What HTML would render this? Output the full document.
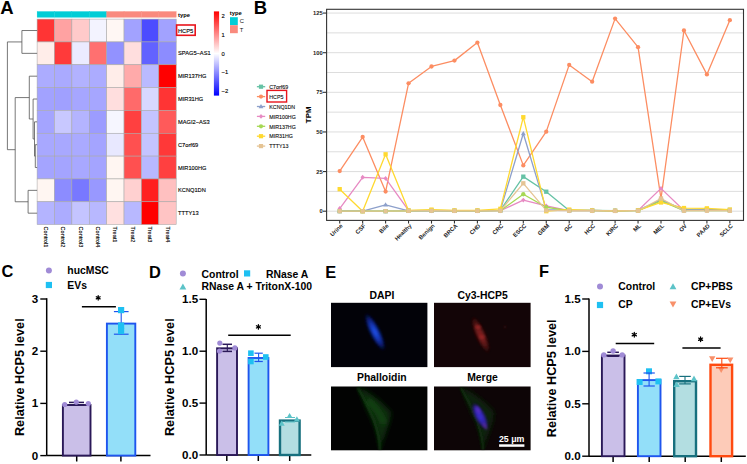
<!DOCTYPE html>
<html><head><meta charset="utf-8"><title>Figure</title>
<style>html,body{margin:0;padding:0;background:#fff;}body{width:747px;height:464px;overflow:hidden;}svg{display:block;font-family:"Liberation Sans", sans-serif;}</style>
</head><body>
<svg width="747" height="464" viewBox="0 0 747 464">
<rect width="747" height="464" fill="#fff"/>
<text x="0.2" y="13.7" font-size="18.5" font-weight="bold">A</text>
<rect x="37.10" y="11.5" width="17.39" height="5.80" fill="#00CDD6" stroke="#00CDD6" stroke-width="0.3"/>
<rect x="54.49" y="11.5" width="17.39" height="5.80" fill="#00CDD6" stroke="#00CDD6" stroke-width="0.3"/>
<rect x="71.88" y="11.5" width="17.39" height="5.80" fill="#00CDD6" stroke="#00CDD6" stroke-width="0.3"/>
<rect x="89.26" y="11.5" width="17.39" height="5.80" fill="#00CDD6" stroke="#00CDD6" stroke-width="0.3"/>
<rect x="106.65" y="11.5" width="17.39" height="5.80" fill="#F98A7E" stroke="#F98A7E" stroke-width="0.3"/>
<rect x="124.04" y="11.5" width="17.39" height="5.80" fill="#F98A7E" stroke="#F98A7E" stroke-width="0.3"/>
<rect x="141.42" y="11.5" width="17.39" height="5.80" fill="#F98A7E" stroke="#F98A7E" stroke-width="0.3"/>
<rect x="158.81" y="11.5" width="17.39" height="5.80" fill="#F98A7E" stroke="#F98A7E" stroke-width="0.3"/>
<rect x="37.10" y="19.10" width="17.39" height="22.83" fill="#FF3434" stroke="#a8a8a8" stroke-width="0.55"/>
<rect x="54.49" y="19.10" width="17.39" height="22.83" fill="#FFA2A2" stroke="#a8a8a8" stroke-width="0.55"/>
<rect x="71.88" y="19.10" width="17.39" height="22.83" fill="#FFCACA" stroke="#a8a8a8" stroke-width="0.55"/>
<rect x="89.26" y="19.10" width="17.39" height="22.83" fill="#F3F3FF" stroke="#a8a8a8" stroke-width="0.55"/>
<rect x="106.65" y="19.10" width="17.39" height="22.83" fill="#FFF7F4" stroke="#a8a8a8" stroke-width="0.55"/>
<rect x="124.04" y="19.10" width="17.39" height="22.83" fill="#A2A2FF" stroke="#a8a8a8" stroke-width="0.55"/>
<rect x="141.42" y="19.10" width="17.39" height="22.83" fill="#4C4CFF" stroke="#a8a8a8" stroke-width="0.55"/>
<rect x="158.81" y="19.10" width="17.39" height="22.83" fill="#A2A2FF" stroke="#a8a8a8" stroke-width="0.55"/>
<rect x="37.10" y="41.93" width="17.39" height="22.83" fill="#FFEDE9" stroke="#a8a8a8" stroke-width="0.55"/>
<rect x="54.49" y="41.93" width="17.39" height="22.83" fill="#FF3A3A" stroke="#a8a8a8" stroke-width="0.55"/>
<rect x="71.88" y="41.93" width="17.39" height="22.83" fill="#EBEBFF" stroke="#a8a8a8" stroke-width="0.55"/>
<rect x="89.26" y="41.93" width="17.39" height="22.83" fill="#FF7070" stroke="#a8a8a8" stroke-width="0.55"/>
<rect x="106.65" y="41.93" width="17.39" height="22.83" fill="#9292FF" stroke="#a8a8a8" stroke-width="0.55"/>
<rect x="124.04" y="41.93" width="17.39" height="22.83" fill="#FFDEDE" stroke="#a8a8a8" stroke-width="0.55"/>
<rect x="141.42" y="41.93" width="17.39" height="22.83" fill="#6262FF" stroke="#a8a8a8" stroke-width="0.55"/>
<rect x="158.81" y="41.93" width="17.39" height="22.83" fill="#8C8CFF" stroke="#a8a8a8" stroke-width="0.55"/>
<rect x="37.10" y="64.77" width="17.39" height="22.83" fill="#ACACFF" stroke="#a8a8a8" stroke-width="0.55"/>
<rect x="54.49" y="64.77" width="17.39" height="22.83" fill="#AAAAFF" stroke="#a8a8a8" stroke-width="0.55"/>
<rect x="71.88" y="64.77" width="17.39" height="22.83" fill="#B2B2FF" stroke="#a8a8a8" stroke-width="0.55"/>
<rect x="89.26" y="64.77" width="17.39" height="22.83" fill="#ACACFF" stroke="#a8a8a8" stroke-width="0.55"/>
<rect x="106.65" y="64.77" width="17.39" height="22.83" fill="#FFEDE9" stroke="#a8a8a8" stroke-width="0.55"/>
<rect x="124.04" y="64.77" width="17.39" height="22.83" fill="#FFAAAA" stroke="#a8a8a8" stroke-width="0.55"/>
<rect x="141.42" y="64.77" width="17.39" height="22.83" fill="#BABAFF" stroke="#a8a8a8" stroke-width="0.55"/>
<rect x="158.81" y="64.77" width="17.39" height="22.83" fill="#FF0000" stroke="#a8a8a8" stroke-width="0.55"/>
<rect x="37.10" y="87.60" width="17.39" height="22.83" fill="#A2A2FF" stroke="#a8a8a8" stroke-width="0.55"/>
<rect x="54.49" y="87.60" width="17.39" height="22.83" fill="#A0A0FF" stroke="#a8a8a8" stroke-width="0.55"/>
<rect x="71.88" y="87.60" width="17.39" height="22.83" fill="#A6A6FF" stroke="#a8a8a8" stroke-width="0.55"/>
<rect x="89.26" y="87.60" width="17.39" height="22.83" fill="#A6A6FF" stroke="#a8a8a8" stroke-width="0.55"/>
<rect x="106.65" y="87.60" width="17.39" height="22.83" fill="#FFDEDE" stroke="#a8a8a8" stroke-width="0.55"/>
<rect x="124.04" y="87.60" width="17.39" height="22.83" fill="#FF6A6A" stroke="#a8a8a8" stroke-width="0.55"/>
<rect x="141.42" y="87.60" width="17.39" height="22.83" fill="#D8D8FF" stroke="#a8a8a8" stroke-width="0.55"/>
<rect x="158.81" y="87.60" width="17.39" height="22.83" fill="#FF3434" stroke="#a8a8a8" stroke-width="0.55"/>
<rect x="37.10" y="110.43" width="17.39" height="22.83" fill="#A4A4FF" stroke="#a8a8a8" stroke-width="0.55"/>
<rect x="54.49" y="110.43" width="17.39" height="22.83" fill="#C8C8FF" stroke="#a8a8a8" stroke-width="0.55"/>
<rect x="71.88" y="110.43" width="17.39" height="22.83" fill="#B4B4FF" stroke="#a8a8a8" stroke-width="0.55"/>
<rect x="89.26" y="110.43" width="17.39" height="22.83" fill="#9C9CFF" stroke="#a8a8a8" stroke-width="0.55"/>
<rect x="106.65" y="110.43" width="17.39" height="22.83" fill="#F6F6FF" stroke="#a8a8a8" stroke-width="0.55"/>
<rect x="124.04" y="110.43" width="17.39" height="22.83" fill="#FF4040" stroke="#a8a8a8" stroke-width="0.55"/>
<rect x="141.42" y="110.43" width="17.39" height="22.83" fill="#C4C4FF" stroke="#a8a8a8" stroke-width="0.55"/>
<rect x="158.81" y="110.43" width="17.39" height="22.83" fill="#FF5A5A" stroke="#a8a8a8" stroke-width="0.55"/>
<rect x="37.10" y="133.27" width="17.39" height="22.83" fill="#A8A8FF" stroke="#a8a8a8" stroke-width="0.55"/>
<rect x="54.49" y="133.27" width="17.39" height="22.83" fill="#A8A8FF" stroke="#a8a8a8" stroke-width="0.55"/>
<rect x="71.88" y="133.27" width="17.39" height="22.83" fill="#AAAAFF" stroke="#a8a8a8" stroke-width="0.55"/>
<rect x="89.26" y="133.27" width="17.39" height="22.83" fill="#A4A4FF" stroke="#a8a8a8" stroke-width="0.55"/>
<rect x="106.65" y="133.27" width="17.39" height="22.83" fill="#E8E8FF" stroke="#a8a8a8" stroke-width="0.55"/>
<rect x="124.04" y="133.27" width="17.39" height="22.83" fill="#FF5050" stroke="#a8a8a8" stroke-width="0.55"/>
<rect x="141.42" y="133.27" width="17.39" height="22.83" fill="#C4C4FF" stroke="#a8a8a8" stroke-width="0.55"/>
<rect x="158.81" y="133.27" width="17.39" height="22.83" fill="#FF3838" stroke="#a8a8a8" stroke-width="0.55"/>
<rect x="37.10" y="156.10" width="17.39" height="22.83" fill="#A4A4FF" stroke="#a8a8a8" stroke-width="0.55"/>
<rect x="54.49" y="156.10" width="17.39" height="22.83" fill="#A4A4FF" stroke="#a8a8a8" stroke-width="0.55"/>
<rect x="71.88" y="156.10" width="17.39" height="22.83" fill="#A8A8FF" stroke="#a8a8a8" stroke-width="0.55"/>
<rect x="89.26" y="156.10" width="17.39" height="22.83" fill="#A4A4FF" stroke="#a8a8a8" stroke-width="0.55"/>
<rect x="106.65" y="156.10" width="17.39" height="22.83" fill="#FFF6F2" stroke="#a8a8a8" stroke-width="0.55"/>
<rect x="124.04" y="156.10" width="17.39" height="22.83" fill="#FF5050" stroke="#a8a8a8" stroke-width="0.55"/>
<rect x="141.42" y="156.10" width="17.39" height="22.83" fill="#B8B8FF" stroke="#a8a8a8" stroke-width="0.55"/>
<rect x="158.81" y="156.10" width="17.39" height="22.83" fill="#FF4040" stroke="#a8a8a8" stroke-width="0.55"/>
<rect x="37.10" y="178.93" width="17.39" height="22.83" fill="#FFF6F2" stroke="#a8a8a8" stroke-width="0.55"/>
<rect x="54.49" y="178.93" width="17.39" height="22.83" fill="#8C8CFF" stroke="#a8a8a8" stroke-width="0.55"/>
<rect x="71.88" y="178.93" width="17.39" height="22.83" fill="#7878FF" stroke="#a8a8a8" stroke-width="0.55"/>
<rect x="89.26" y="178.93" width="17.39" height="22.83" fill="#9898FF" stroke="#a8a8a8" stroke-width="0.55"/>
<rect x="106.65" y="178.93" width="17.39" height="22.83" fill="#FFF6F2" stroke="#a8a8a8" stroke-width="0.55"/>
<rect x="124.04" y="178.93" width="17.39" height="22.83" fill="#FFD0D0" stroke="#a8a8a8" stroke-width="0.55"/>
<rect x="141.42" y="178.93" width="17.39" height="22.83" fill="#FF2020" stroke="#a8a8a8" stroke-width="0.55"/>
<rect x="158.81" y="178.93" width="17.39" height="22.83" fill="#FFC0C0" stroke="#a8a8a8" stroke-width="0.55"/>
<rect x="37.10" y="201.77" width="17.39" height="22.83" fill="#B4B4FF" stroke="#a8a8a8" stroke-width="0.55"/>
<rect x="54.49" y="201.77" width="17.39" height="22.83" fill="#ACACFF" stroke="#a8a8a8" stroke-width="0.55"/>
<rect x="71.88" y="201.77" width="17.39" height="22.83" fill="#C4C4FF" stroke="#a8a8a8" stroke-width="0.55"/>
<rect x="89.26" y="201.77" width="17.39" height="22.83" fill="#B8B8FF" stroke="#a8a8a8" stroke-width="0.55"/>
<rect x="106.65" y="201.77" width="17.39" height="22.83" fill="#FFE0E0" stroke="#a8a8a8" stroke-width="0.55"/>
<rect x="124.04" y="201.77" width="17.39" height="22.83" fill="#B8B8FF" stroke="#a8a8a8" stroke-width="0.55"/>
<rect x="141.42" y="201.77" width="17.39" height="22.83" fill="#FF0000" stroke="#a8a8a8" stroke-width="0.55"/>
<rect x="158.81" y="201.77" width="17.39" height="22.83" fill="#FFC4C4" stroke="#a8a8a8" stroke-width="0.55"/>
<text x="178" y="16.9" font-size="5.8" font-weight="bold">type</text>
<text x="178" y="32.62" font-size="5.7" fill="#000" stroke="#000" stroke-width="0.12">HCP5</text>
<text x="178" y="55.45" font-size="5.7" fill="#000" stroke="#000" stroke-width="0.12">SPAG5−AS1</text>
<text x="178" y="78.28" font-size="5.7" fill="#000" stroke="#000" stroke-width="0.12">MIR137HG</text>
<text x="178" y="101.12" font-size="5.7" fill="#000" stroke="#000" stroke-width="0.12">MIR31HG</text>
<text x="178" y="123.95" font-size="5.7" fill="#000" stroke="#000" stroke-width="0.12">MAGI2−AS3</text>
<text x="178" y="146.78" font-size="5.7" fill="#000" stroke="#000" stroke-width="0.12">C7orf69</text>
<text x="178" y="169.62" font-size="5.7" fill="#000" stroke="#000" stroke-width="0.12">MIR100HG</text>
<text x="178" y="192.45" font-size="5.7" fill="#000" stroke="#000" stroke-width="0.12">KCNQ1DN</text>
<text x="178" y="215.28" font-size="5.7" fill="#000" stroke="#000" stroke-width="0.12">TTTY13</text>
<rect x="176.6" y="25" width="18.6" height="10.3" fill="none" stroke="#E8141C" stroke-width="1.6"/>
<text transform="translate(43.79,226.6) rotate(90)" font-size="5.5" fill="#000" stroke="#000" stroke-width="0.12">Control1</text>
<text transform="translate(61.18,226.6) rotate(90)" font-size="5.5" fill="#000" stroke="#000" stroke-width="0.12">Control2</text>
<text transform="translate(78.57,226.6) rotate(90)" font-size="5.5" fill="#000" stroke="#000" stroke-width="0.12">Control3</text>
<text transform="translate(95.96,226.6) rotate(90)" font-size="5.5" fill="#000" stroke="#000" stroke-width="0.12">Control4</text>
<text transform="translate(113.34,226.6) rotate(90)" font-size="5.5" fill="#000" stroke="#000" stroke-width="0.12">Treat1</text>
<text transform="translate(130.73,226.6) rotate(90)" font-size="5.5" fill="#000" stroke="#000" stroke-width="0.12">Treat2</text>
<text transform="translate(148.12,226.6) rotate(90)" font-size="5.5" fill="#000" stroke="#000" stroke-width="0.12">Treat3</text>
<text transform="translate(165.51,226.6) rotate(90)" font-size="5.5" fill="#000" stroke="#000" stroke-width="0.12">Treat4</text>
<line x1="21.90" y1="30.52" x2="37.10" y2="30.52" stroke="#555" stroke-width="0.8"/>
<line x1="21.90" y1="53.35" x2="37.10" y2="53.35" stroke="#555" stroke-width="0.8"/>
<line x1="21.90" y1="30.52" x2="21.90" y2="53.35" stroke="#555" stroke-width="0.8"/>
<line x1="35.30" y1="144.68" x2="37.10" y2="144.68" stroke="#555" stroke-width="0.8"/>
<line x1="35.30" y1="167.52" x2="37.10" y2="167.52" stroke="#555" stroke-width="0.8"/>
<line x1="35.30" y1="144.68" x2="35.30" y2="167.52" stroke="#555" stroke-width="0.8"/>
<line x1="34.50" y1="121.85" x2="37.10" y2="121.85" stroke="#555" stroke-width="0.8"/>
<line x1="34.50" y1="156.10" x2="35.30" y2="156.10" stroke="#555" stroke-width="0.8"/>
<line x1="34.50" y1="121.85" x2="34.50" y2="156.10" stroke="#555" stroke-width="0.8"/>
<line x1="33.10" y1="99.02" x2="37.10" y2="99.02" stroke="#555" stroke-width="0.8"/>
<line x1="33.10" y1="138.97" x2="34.50" y2="138.97" stroke="#555" stroke-width="0.8"/>
<line x1="33.10" y1="99.02" x2="33.10" y2="138.97" stroke="#555" stroke-width="0.8"/>
<line x1="29.30" y1="76.18" x2="37.10" y2="76.18" stroke="#555" stroke-width="0.8"/>
<line x1="29.30" y1="119.00" x2="33.10" y2="119.00" stroke="#555" stroke-width="0.8"/>
<line x1="29.30" y1="76.18" x2="29.30" y2="119.00" stroke="#555" stroke-width="0.8"/>
<line x1="28.10" y1="190.35" x2="37.10" y2="190.35" stroke="#555" stroke-width="0.8"/>
<line x1="28.10" y1="213.18" x2="37.10" y2="213.18" stroke="#555" stroke-width="0.8"/>
<line x1="28.10" y1="190.35" x2="28.10" y2="213.18" stroke="#555" stroke-width="0.8"/>
<line x1="15.20" y1="97.59" x2="29.30" y2="97.59" stroke="#555" stroke-width="0.8"/>
<line x1="15.20" y1="201.77" x2="28.10" y2="201.77" stroke="#555" stroke-width="0.8"/>
<line x1="15.20" y1="97.59" x2="15.20" y2="201.77" stroke="#555" stroke-width="0.8"/>
<line x1="7.40" y1="41.93" x2="21.90" y2="41.93" stroke="#555" stroke-width="0.8"/>
<line x1="7.40" y1="149.68" x2="15.20" y2="149.68" stroke="#555" stroke-width="0.8"/>
<line x1="7.40" y1="41.93" x2="7.40" y2="149.68" stroke="#555" stroke-width="0.8"/>
<defs><linearGradient id="cb" x1="0" y1="0" x2="0" y2="1"><stop offset="0" stop-color="#FF0000"/><stop offset="0.5" stop-color="#FFFFFF"/><stop offset="1" stop-color="#0000FF"/></linearGradient></defs>
<rect x="213.9" y="11.4" width="5.2" height="84.2" fill="url(#cb)"/>
<text x="221.5" y="17.9" font-size="5.8" fill="#000" stroke="#000" stroke-width="0.12">2</text>
<text x="221.5" y="36.7" font-size="5.8" fill="#000" stroke="#000" stroke-width="0.12">1</text>
<text x="221.5" y="55.6" font-size="5.8" fill="#000" stroke="#000" stroke-width="0.12">0</text>
<text x="221.5" y="74.4" font-size="5.8" fill="#000" stroke="#000" stroke-width="0.12">−1</text>
<text x="221.5" y="93.4" font-size="5.8" fill="#000" stroke="#000" stroke-width="0.12">−2</text>
<text x="229.8" y="15.2" font-size="5.8" font-weight="bold">type</text>
<rect x="230" y="17.2" width="7.8" height="8" fill="#00CDD6"/>
<rect x="230" y="25.2" width="7.8" height="8" fill="#F98A7E"/>
<text x="239.8" y="23.4" font-size="5.8" fill="#111">C</text>
<text x="239.8" y="31.5" font-size="5.8" fill="#111">T</text>
<text x="253.8" y="13.7" font-size="18.5" font-weight="bold">B</text>
<line x1="326.6" x2="743.5" y1="211.20" y2="211.20" stroke="#d9d9d9" stroke-width="0.9"/>
<line x1="326.6" x2="743.5" y1="191.39" y2="191.39" stroke="#d9d9d9" stroke-width="0.9"/>
<line x1="326.6" x2="743.5" y1="171.57" y2="171.57" stroke="#d9d9d9" stroke-width="0.9"/>
<line x1="326.6" x2="743.5" y1="151.76" y2="151.76" stroke="#d9d9d9" stroke-width="0.9"/>
<line x1="326.6" x2="743.5" y1="131.95" y2="131.95" stroke="#d9d9d9" stroke-width="0.9"/>
<line x1="326.6" x2="743.5" y1="112.14" y2="112.14" stroke="#d9d9d9" stroke-width="0.9"/>
<line x1="326.6" x2="743.5" y1="92.32" y2="92.32" stroke="#d9d9d9" stroke-width="0.9"/>
<line x1="326.6" x2="743.5" y1="72.51" y2="72.51" stroke="#d9d9d9" stroke-width="0.9"/>
<line x1="326.6" x2="743.5" y1="52.70" y2="52.70" stroke="#d9d9d9" stroke-width="0.9"/>
<line x1="326.6" x2="743.5" y1="32.89" y2="32.89" stroke="#d9d9d9" stroke-width="0.9"/>
<line x1="326.6" x2="743.5" y1="13.07" y2="13.07" stroke="#d9d9d9" stroke-width="0.9"/>
<rect x="326.6" y="9.3" width="416.9" height="211.1" fill="none" stroke="#333" stroke-width="1.1"/>
<line x1="323.0" x2="326.6" y1="211.20" y2="211.20" stroke="#333" stroke-width="1.1"/>
<text x="322.70000000000005" y="213.30" font-size="5.8" font-weight="bold" text-anchor="end" fill="#222">0</text>
<line x1="323.0" x2="326.6" y1="171.57" y2="171.57" stroke="#333" stroke-width="1.1"/>
<text x="322.70000000000005" y="173.67" font-size="5.8" font-weight="bold" text-anchor="end" fill="#222">25</text>
<line x1="323.0" x2="326.6" y1="131.95" y2="131.95" stroke="#333" stroke-width="1.1"/>
<text x="322.70000000000005" y="134.05" font-size="5.8" font-weight="bold" text-anchor="end" fill="#222">50</text>
<line x1="323.0" x2="326.6" y1="92.32" y2="92.32" stroke="#333" stroke-width="1.1"/>
<text x="322.70000000000005" y="94.42" font-size="5.8" font-weight="bold" text-anchor="end" fill="#222">75</text>
<line x1="323.0" x2="326.6" y1="52.70" y2="52.70" stroke="#333" stroke-width="1.1"/>
<text x="322.70000000000005" y="54.80" font-size="5.8" font-weight="bold" text-anchor="end" fill="#222">100</text>
<line x1="323.0" x2="326.6" y1="13.07" y2="13.07" stroke="#333" stroke-width="1.1"/>
<text x="322.70000000000005" y="15.17" font-size="5.8" font-weight="bold" text-anchor="end" fill="#222">125</text>
<text transform="translate(310.5,114.8) rotate(-90)" font-size="7.9" font-weight="bold" text-anchor="middle">TPM</text>
<line x1="339.70" x2="339.70" y1="220.4" y2="223.6" stroke="#333" stroke-width="1.1"/>
<text transform="translate(343.10,226.20) rotate(-45)" font-size="5.8" font-weight="bold" text-anchor="end" fill="#222">Urine</text>
<line x1="362.65" x2="362.65" y1="220.4" y2="223.6" stroke="#333" stroke-width="1.1"/>
<text transform="translate(366.05,226.20) rotate(-45)" font-size="5.8" font-weight="bold" text-anchor="end" fill="#222">CSF</text>
<line x1="385.60" x2="385.60" y1="220.4" y2="223.6" stroke="#333" stroke-width="1.1"/>
<text transform="translate(389.00,226.20) rotate(-45)" font-size="5.8" font-weight="bold" text-anchor="end" fill="#222">Bile</text>
<line x1="408.55" x2="408.55" y1="220.4" y2="223.6" stroke="#333" stroke-width="1.1"/>
<text transform="translate(411.95,226.20) rotate(-45)" font-size="5.8" font-weight="bold" text-anchor="end" fill="#222">Healthy</text>
<line x1="431.50" x2="431.50" y1="220.4" y2="223.6" stroke="#333" stroke-width="1.1"/>
<text transform="translate(434.90,226.20) rotate(-45)" font-size="5.8" font-weight="bold" text-anchor="end" fill="#222">Benign</text>
<line x1="454.45" x2="454.45" y1="220.4" y2="223.6" stroke="#333" stroke-width="1.1"/>
<text transform="translate(457.85,226.20) rotate(-45)" font-size="5.8" font-weight="bold" text-anchor="end" fill="#222">BRCA</text>
<line x1="477.40" x2="477.40" y1="220.4" y2="223.6" stroke="#333" stroke-width="1.1"/>
<text transform="translate(480.80,226.20) rotate(-45)" font-size="5.8" font-weight="bold" text-anchor="end" fill="#222">CHD</text>
<line x1="500.35" x2="500.35" y1="220.4" y2="223.6" stroke="#333" stroke-width="1.1"/>
<text transform="translate(503.75,226.20) rotate(-45)" font-size="5.8" font-weight="bold" text-anchor="end" fill="#222">CRC</text>
<line x1="523.30" x2="523.30" y1="220.4" y2="223.6" stroke="#333" stroke-width="1.1"/>
<text transform="translate(526.70,226.20) rotate(-45)" font-size="5.8" font-weight="bold" text-anchor="end" fill="#222">ESCC</text>
<line x1="546.25" x2="546.25" y1="220.4" y2="223.6" stroke="#333" stroke-width="1.1"/>
<text transform="translate(549.65,226.20) rotate(-45)" font-size="5.8" font-weight="bold" text-anchor="end" fill="#222">GBM</text>
<line x1="569.20" x2="569.20" y1="220.4" y2="223.6" stroke="#333" stroke-width="1.1"/>
<text transform="translate(572.60,226.20) rotate(-45)" font-size="5.8" font-weight="bold" text-anchor="end" fill="#222">GC</text>
<line x1="592.15" x2="592.15" y1="220.4" y2="223.6" stroke="#333" stroke-width="1.1"/>
<text transform="translate(595.55,226.20) rotate(-45)" font-size="5.8" font-weight="bold" text-anchor="end" fill="#222">HCC</text>
<line x1="615.10" x2="615.10" y1="220.4" y2="223.6" stroke="#333" stroke-width="1.1"/>
<text transform="translate(618.50,226.20) rotate(-45)" font-size="5.8" font-weight="bold" text-anchor="end" fill="#222">KIRC</text>
<line x1="638.05" x2="638.05" y1="220.4" y2="223.6" stroke="#333" stroke-width="1.1"/>
<text transform="translate(641.45,226.20) rotate(-45)" font-size="5.8" font-weight="bold" text-anchor="end" fill="#222">ML</text>
<line x1="661.00" x2="661.00" y1="220.4" y2="223.6" stroke="#333" stroke-width="1.1"/>
<text transform="translate(664.40,226.20) rotate(-45)" font-size="5.8" font-weight="bold" text-anchor="end" fill="#222">MEL</text>
<line x1="683.95" x2="683.95" y1="220.4" y2="223.6" stroke="#333" stroke-width="1.1"/>
<text transform="translate(687.35,226.20) rotate(-45)" font-size="5.8" font-weight="bold" text-anchor="end" fill="#222">OV</text>
<line x1="706.90" x2="706.90" y1="220.4" y2="223.6" stroke="#333" stroke-width="1.1"/>
<text transform="translate(710.30,226.20) rotate(-45)" font-size="5.8" font-weight="bold" text-anchor="end" fill="#222">PAAD</text>
<line x1="729.85" x2="729.85" y1="220.4" y2="223.6" stroke="#333" stroke-width="1.1"/>
<text transform="translate(733.25,226.20) rotate(-45)" font-size="5.8" font-weight="bold" text-anchor="end" fill="#222">SCLC</text>
<polyline points="339.70,211.20 362.65,211.20 385.60,211.20 408.55,210.72 431.50,210.41 454.45,210.72 477.40,210.72 500.35,210.41 523.30,176.65 546.25,191.70 569.20,210.41 592.15,210.41 615.10,210.72 638.05,210.41 661.00,200.10 683.95,209.61 706.90,209.30 729.85,209.93" fill="none" stroke="#66C2A5" stroke-width="1.3" stroke-linejoin="round"/>
<polyline points="339.70,171.10 362.65,137.02 385.60,191.55 408.55,83.29 431.50,66.49 454.45,60.62 477.40,42.56 500.35,105.00 523.30,165.39 546.25,131.63 569.20,64.90 592.15,81.71 615.10,18.62 638.05,47.15 661.00,198.52 683.95,30.51 706.90,74.41 729.85,20.21" fill="none" stroke="#FC8D62" stroke-width="1.3" stroke-linejoin="round"/>
<polyline points="339.70,211.20 362.65,211.20 385.60,204.86 408.55,210.88 431.50,210.72 454.45,210.88 477.40,210.88 500.35,210.41 523.30,133.53 546.25,209.61 569.20,210.41 592.15,210.41 615.10,210.88 638.05,210.41 661.00,200.10 683.95,210.41 706.90,209.61 729.85,210.41" fill="none" stroke="#8DA0CB" stroke-width="1.3" stroke-linejoin="round"/>
<polyline points="339.70,208.51 362.65,177.28 385.60,178.39 408.55,210.41 431.50,210.72 454.45,210.72 477.40,210.72 500.35,210.72 523.30,200.10 546.25,205.97 569.20,210.72 592.15,210.72 615.10,210.72 638.05,210.41 661.00,188.38 683.95,210.41 706.90,210.41 729.85,210.41" fill="none" stroke="#E78AC3" stroke-width="1.3" stroke-linejoin="round"/>
<polyline points="339.70,211.20 362.65,211.20 385.60,211.20 408.55,210.88 431.50,210.72 454.45,210.88 477.40,210.88 500.35,210.72 523.30,194.24 546.25,207.24 569.20,210.72 592.15,210.72 615.10,210.88 638.05,210.72 661.00,200.90 683.95,210.72 706.90,210.41 729.85,210.72" fill="none" stroke="#A6D854" stroke-width="1.3" stroke-linejoin="round"/>
<polyline points="339.70,189.17 362.65,211.20 385.60,154.30 408.55,210.41 431.50,209.61 454.45,210.41 477.40,210.41 500.35,208.82 523.30,117.21 546.25,211.20 569.20,209.61 592.15,210.41 615.10,210.88 638.05,210.41 661.00,202.48 683.95,208.03 706.90,208.35 729.85,209.61" fill="none" stroke="#FFD92F" stroke-width="1.3" stroke-linejoin="round"/>
<polyline points="339.70,211.20 362.65,211.20 385.60,211.20 408.55,210.88 431.50,210.72 454.45,210.88 477.40,210.88 500.35,210.72 523.30,183.30 546.25,210.41 569.20,210.72 592.15,210.72 615.10,210.88 638.05,210.72 661.00,198.52 683.95,210.72 706.90,210.72 729.85,210.72" fill="none" stroke="#E5C494" stroke-width="1.3" stroke-linejoin="round"/>
<rect x="337.55" y="209.05" width="4.30" height="4.30" fill="#66C2A5"/>
<rect x="360.50" y="209.05" width="4.30" height="4.30" fill="#66C2A5"/>
<rect x="383.45" y="209.05" width="4.30" height="4.30" fill="#66C2A5"/>
<rect x="406.40" y="208.57" width="4.30" height="4.30" fill="#66C2A5"/>
<rect x="429.35" y="208.26" width="4.30" height="4.30" fill="#66C2A5"/>
<rect x="452.30" y="208.57" width="4.30" height="4.30" fill="#66C2A5"/>
<rect x="475.25" y="208.57" width="4.30" height="4.30" fill="#66C2A5"/>
<rect x="498.20" y="208.26" width="4.30" height="4.30" fill="#66C2A5"/>
<rect x="521.15" y="174.50" width="4.30" height="4.30" fill="#66C2A5"/>
<rect x="544.10" y="189.55" width="4.30" height="4.30" fill="#66C2A5"/>
<rect x="567.05" y="208.26" width="4.30" height="4.30" fill="#66C2A5"/>
<rect x="590.00" y="208.26" width="4.30" height="4.30" fill="#66C2A5"/>
<rect x="612.95" y="208.57" width="4.30" height="4.30" fill="#66C2A5"/>
<rect x="635.90" y="208.26" width="4.30" height="4.30" fill="#66C2A5"/>
<rect x="658.85" y="197.95" width="4.30" height="4.30" fill="#66C2A5"/>
<rect x="681.80" y="207.46" width="4.30" height="4.30" fill="#66C2A5"/>
<rect x="704.75" y="207.15" width="4.30" height="4.30" fill="#66C2A5"/>
<rect x="727.70" y="207.78" width="4.30" height="4.30" fill="#66C2A5"/>
<circle cx="339.70" cy="171.10" r="2.15" fill="#FC8D62"/>
<circle cx="362.65" cy="137.02" r="2.15" fill="#FC8D62"/>
<circle cx="385.60" cy="191.55" r="2.15" fill="#FC8D62"/>
<circle cx="408.55" cy="83.29" r="2.15" fill="#FC8D62"/>
<circle cx="431.50" cy="66.49" r="2.15" fill="#FC8D62"/>
<circle cx="454.45" cy="60.62" r="2.15" fill="#FC8D62"/>
<circle cx="477.40" cy="42.56" r="2.15" fill="#FC8D62"/>
<circle cx="500.35" cy="105.00" r="2.15" fill="#FC8D62"/>
<circle cx="523.30" cy="165.39" r="2.15" fill="#FC8D62"/>
<circle cx="546.25" cy="131.63" r="2.15" fill="#FC8D62"/>
<circle cx="569.20" cy="64.90" r="2.15" fill="#FC8D62"/>
<circle cx="592.15" cy="81.71" r="2.15" fill="#FC8D62"/>
<circle cx="615.10" cy="18.62" r="2.15" fill="#FC8D62"/>
<circle cx="638.05" cy="47.15" r="2.15" fill="#FC8D62"/>
<circle cx="661.00" cy="198.52" r="2.15" fill="#FC8D62"/>
<circle cx="683.95" cy="30.51" r="2.15" fill="#FC8D62"/>
<circle cx="706.90" cy="74.41" r="2.15" fill="#FC8D62"/>
<circle cx="729.85" cy="20.21" r="2.15" fill="#FC8D62"/>
<path d="M339.70,208.65 L342.15,212.95 L337.25,212.95Z" fill="#8DA0CB"/>
<path d="M362.65,208.65 L365.10,212.95 L360.20,212.95Z" fill="#8DA0CB"/>
<path d="M385.60,202.31 L388.05,206.61 L383.15,206.61Z" fill="#8DA0CB"/>
<path d="M408.55,208.33 L411.00,212.63 L406.10,212.63Z" fill="#8DA0CB"/>
<path d="M431.50,208.17 L433.95,212.47 L429.05,212.47Z" fill="#8DA0CB"/>
<path d="M454.45,208.33 L456.90,212.63 L452.00,212.63Z" fill="#8DA0CB"/>
<path d="M477.40,208.33 L479.85,212.63 L474.95,212.63Z" fill="#8DA0CB"/>
<path d="M500.35,207.86 L502.80,212.16 L497.90,212.16Z" fill="#8DA0CB"/>
<path d="M523.30,130.98 L525.75,135.28 L520.85,135.28Z" fill="#8DA0CB"/>
<path d="M546.25,207.06 L548.70,211.36 L543.80,211.36Z" fill="#8DA0CB"/>
<path d="M569.20,207.86 L571.65,212.16 L566.75,212.16Z" fill="#8DA0CB"/>
<path d="M592.15,207.86 L594.60,212.16 L589.70,212.16Z" fill="#8DA0CB"/>
<path d="M615.10,208.33 L617.55,212.63 L612.65,212.63Z" fill="#8DA0CB"/>
<path d="M638.05,207.86 L640.50,212.16 L635.60,212.16Z" fill="#8DA0CB"/>
<path d="M661.00,197.55 L663.45,201.85 L658.55,201.85Z" fill="#8DA0CB"/>
<path d="M683.95,207.86 L686.40,212.16 L681.50,212.16Z" fill="#8DA0CB"/>
<path d="M706.90,207.06 L709.35,211.36 L704.45,211.36Z" fill="#8DA0CB"/>
<path d="M729.85,207.86 L732.30,212.16 L727.40,212.16Z" fill="#8DA0CB"/>
<path d="M339.70,206.06 L341.85,208.51 L339.70,210.96 L337.55,208.51Z" fill="#E78AC3"/>
<path d="M362.65,174.83 L364.80,177.28 L362.65,179.73 L360.50,177.28Z" fill="#E78AC3"/>
<path d="M385.60,175.94 L387.75,178.39 L385.60,180.84 L383.45,178.39Z" fill="#E78AC3"/>
<path d="M408.55,207.96 L410.70,210.41 L408.55,212.86 L406.40,210.41Z" fill="#E78AC3"/>
<path d="M431.50,208.27 L433.65,210.72 L431.50,213.17 L429.35,210.72Z" fill="#E78AC3"/>
<path d="M454.45,208.27 L456.60,210.72 L454.45,213.17 L452.30,210.72Z" fill="#E78AC3"/>
<path d="M477.40,208.27 L479.55,210.72 L477.40,213.17 L475.25,210.72Z" fill="#E78AC3"/>
<path d="M500.35,208.27 L502.50,210.72 L500.35,213.17 L498.20,210.72Z" fill="#E78AC3"/>
<path d="M523.30,197.65 L525.45,200.10 L523.30,202.56 L521.15,200.10Z" fill="#E78AC3"/>
<path d="M546.25,203.52 L548.40,205.97 L546.25,208.42 L544.10,205.97Z" fill="#E78AC3"/>
<path d="M569.20,208.27 L571.35,210.72 L569.20,213.17 L567.05,210.72Z" fill="#E78AC3"/>
<path d="M592.15,208.27 L594.30,210.72 L592.15,213.17 L590.00,210.72Z" fill="#E78AC3"/>
<path d="M615.10,208.27 L617.25,210.72 L615.10,213.17 L612.95,210.72Z" fill="#E78AC3"/>
<path d="M638.05,207.96 L640.20,210.41 L638.05,212.86 L635.90,210.41Z" fill="#E78AC3"/>
<path d="M661.00,185.93 L663.15,188.38 L661.00,190.83 L658.85,188.38Z" fill="#E78AC3"/>
<path d="M683.95,207.96 L686.10,210.41 L683.95,212.86 L681.80,210.41Z" fill="#E78AC3"/>
<path d="M706.90,207.96 L709.05,210.41 L706.90,212.86 L704.75,210.41Z" fill="#E78AC3"/>
<path d="M729.85,207.96 L732.00,210.41 L729.85,212.86 L727.70,210.41Z" fill="#E78AC3"/>
<circle cx="339.70" cy="211.20" r="2.15" fill="#A6D854"/>
<circle cx="362.65" cy="211.20" r="2.15" fill="#A6D854"/>
<circle cx="385.60" cy="211.20" r="2.15" fill="#A6D854"/>
<circle cx="408.55" cy="210.88" r="2.15" fill="#A6D854"/>
<circle cx="431.50" cy="210.72" r="2.15" fill="#A6D854"/>
<circle cx="454.45" cy="210.88" r="2.15" fill="#A6D854"/>
<circle cx="477.40" cy="210.88" r="2.15" fill="#A6D854"/>
<circle cx="500.35" cy="210.72" r="2.15" fill="#A6D854"/>
<circle cx="523.30" cy="194.24" r="2.15" fill="#A6D854"/>
<circle cx="546.25" cy="207.24" r="2.15" fill="#A6D854"/>
<circle cx="569.20" cy="210.72" r="2.15" fill="#A6D854"/>
<circle cx="592.15" cy="210.72" r="2.15" fill="#A6D854"/>
<circle cx="615.10" cy="210.88" r="2.15" fill="#A6D854"/>
<circle cx="638.05" cy="210.72" r="2.15" fill="#A6D854"/>
<circle cx="661.00" cy="200.90" r="2.15" fill="#A6D854"/>
<circle cx="683.95" cy="210.72" r="2.15" fill="#A6D854"/>
<circle cx="706.90" cy="210.41" r="2.15" fill="#A6D854"/>
<circle cx="729.85" cy="210.72" r="2.15" fill="#A6D854"/>
<rect x="337.55" y="187.02" width="4.30" height="4.30" fill="#FFD92F"/>
<rect x="360.50" y="209.05" width="4.30" height="4.30" fill="#FFD92F"/>
<rect x="383.45" y="152.15" width="4.30" height="4.30" fill="#FFD92F"/>
<rect x="406.40" y="208.26" width="4.30" height="4.30" fill="#FFD92F"/>
<rect x="429.35" y="207.46" width="4.30" height="4.30" fill="#FFD92F"/>
<rect x="452.30" y="208.26" width="4.30" height="4.30" fill="#FFD92F"/>
<rect x="475.25" y="208.26" width="4.30" height="4.30" fill="#FFD92F"/>
<rect x="498.20" y="206.67" width="4.30" height="4.30" fill="#FFD92F"/>
<rect x="521.15" y="115.06" width="4.30" height="4.30" fill="#FFD92F"/>
<rect x="544.10" y="209.05" width="4.30" height="4.30" fill="#FFD92F"/>
<rect x="567.05" y="207.46" width="4.30" height="4.30" fill="#FFD92F"/>
<rect x="590.00" y="208.26" width="4.30" height="4.30" fill="#FFD92F"/>
<rect x="612.95" y="208.73" width="4.30" height="4.30" fill="#FFD92F"/>
<rect x="635.90" y="208.26" width="4.30" height="4.30" fill="#FFD92F"/>
<rect x="658.85" y="200.33" width="4.30" height="4.30" fill="#FFD92F"/>
<rect x="681.80" y="205.88" width="4.30" height="4.30" fill="#FFD92F"/>
<rect x="704.75" y="206.20" width="4.30" height="4.30" fill="#FFD92F"/>
<rect x="727.70" y="207.46" width="4.30" height="4.30" fill="#FFD92F"/>
<rect x="337.55" y="209.05" width="4.30" height="4.30" fill="#E5C494"/>
<rect x="360.50" y="209.05" width="4.30" height="4.30" fill="#E5C494"/>
<rect x="383.45" y="209.05" width="4.30" height="4.30" fill="#E5C494"/>
<rect x="406.40" y="208.73" width="4.30" height="4.30" fill="#E5C494"/>
<rect x="429.35" y="208.57" width="4.30" height="4.30" fill="#E5C494"/>
<rect x="452.30" y="208.73" width="4.30" height="4.30" fill="#E5C494"/>
<rect x="475.25" y="208.73" width="4.30" height="4.30" fill="#E5C494"/>
<rect x="498.20" y="208.57" width="4.30" height="4.30" fill="#E5C494"/>
<rect x="521.15" y="181.15" width="4.30" height="4.30" fill="#E5C494"/>
<rect x="544.10" y="208.26" width="4.30" height="4.30" fill="#E5C494"/>
<rect x="567.05" y="208.57" width="4.30" height="4.30" fill="#E5C494"/>
<rect x="590.00" y="208.57" width="4.30" height="4.30" fill="#E5C494"/>
<rect x="612.95" y="208.73" width="4.30" height="4.30" fill="#E5C494"/>
<rect x="635.90" y="208.57" width="4.30" height="4.30" fill="#E5C494"/>
<rect x="658.85" y="196.37" width="4.30" height="4.30" fill="#E5C494"/>
<rect x="681.80" y="208.57" width="4.30" height="4.30" fill="#E5C494"/>
<rect x="704.75" y="208.57" width="4.30" height="4.30" fill="#E5C494"/>
<rect x="727.70" y="208.57" width="4.30" height="4.30" fill="#E5C494"/>
<line x1="256.9" x2="265.2" y1="86.70" y2="86.70" stroke="#66C2A5" stroke-width="1.3"/>
<rect x="258.90" y="84.60" width="4.20" height="4.20" fill="#66C2A5"/>
<text x="269.3" y="88.90" font-size="5.3" fill="#111" stroke="#111" stroke-width="0.12">C7orf69</text>
<line x1="256.9" x2="265.2" y1="96.60" y2="96.60" stroke="#FC8D62" stroke-width="1.3"/>
<circle cx="261.00" cy="96.60" r="2.1" fill="#FC8D62"/>
<text x="269.3" y="98.80" font-size="5.3" fill="#111" stroke="#111" stroke-width="0.12">HCP5</text>
<line x1="256.9" x2="265.2" y1="106.50" y2="106.50" stroke="#8DA0CB" stroke-width="1.3"/>
<path d="M261.00,104.00 L263.40,108.20 L258.60,108.20Z" fill="#8DA0CB"/>
<text x="269.3" y="108.70" font-size="5.3" fill="#111" stroke="#111" stroke-width="0.12">KCNQ1DN</text>
<line x1="256.9" x2="265.2" y1="116.40" y2="116.40" stroke="#E78AC3" stroke-width="1.3"/>
<path d="M261.00,114.00 L263.10,116.40 L261.00,118.80 L258.90,116.40Z" fill="#E78AC3"/>
<text x="269.3" y="118.60" font-size="5.3" fill="#111" stroke="#111" stroke-width="0.12">MIR100HG</text>
<line x1="256.9" x2="265.2" y1="126.30" y2="126.30" stroke="#A6D854" stroke-width="1.3"/>
<circle cx="261.00" cy="126.30" r="2.1" fill="#A6D854"/>
<text x="269.3" y="128.50" font-size="5.3" fill="#111" stroke="#111" stroke-width="0.12">MIR137HG</text>
<line x1="256.9" x2="265.2" y1="136.20" y2="136.20" stroke="#FFD92F" stroke-width="1.3"/>
<rect x="258.90" y="134.10" width="4.20" height="4.20" fill="#FFD92F"/>
<text x="269.3" y="138.40" font-size="5.3" fill="#111" stroke="#111" stroke-width="0.12">MIR31HG</text>
<line x1="256.9" x2="265.2" y1="146.10" y2="146.10" stroke="#E5C494" stroke-width="1.3"/>
<rect x="258.90" y="144.00" width="4.20" height="4.20" fill="#E5C494"/>
<text x="269.3" y="148.30" font-size="5.3" fill="#111" stroke="#111" stroke-width="0.12">TTTY13</text>
<rect x="267" y="90.4" width="19.6" height="11.6" fill="none" stroke="#E8141C" stroke-width="1.4"/>
<text x="1.5" y="276.9" font-size="16.4" font-weight="bold">C</text>
<circle cx="48.9" cy="270.5" r="3" fill="#A08BD6"/>
<text x="67.3" y="274.3" font-size="10.4" font-weight="bold">hucMSC</text>
<rect x="45.8" y="281.9" width="6.2" height="6.2" fill="#1EC0F2"/>
<text x="67.3" y="288.8" font-size="10.4" font-weight="bold">EVs</text>
<line x1="46.7" y1="298.2" x2="46.7" y2="455.6" stroke="#000" stroke-width="1.5"/>
<line x1="46.7" y1="455.6" x2="150.5" y2="455.6" stroke="#000" stroke-width="1.5"/>
<line x1="40.3" y1="455.60" x2="46.7" y2="455.60" stroke="#000" stroke-width="1.4"/>
<text x="38.3" y="459.60" font-size="11.6" font-weight="bold" text-anchor="end">0</text>
<line x1="40.3" y1="403.40" x2="46.7" y2="403.40" stroke="#000" stroke-width="1.4"/>
<text x="38.3" y="407.40" font-size="11.6" font-weight="bold" text-anchor="end">1</text>
<line x1="40.3" y1="351.20" x2="46.7" y2="351.20" stroke="#000" stroke-width="1.4"/>
<text x="38.3" y="355.20" font-size="11.6" font-weight="bold" text-anchor="end">2</text>
<line x1="40.3" y1="299.00" x2="46.7" y2="299.00" stroke="#000" stroke-width="1.4"/>
<text x="38.3" y="303.00" font-size="11.6" font-weight="bold" text-anchor="end">3</text>
<line x1="76.7" y1="455.6" x2="76.7" y2="461.5" stroke="#000" stroke-width="1.5"/>
<line x1="120.9" y1="455.6" x2="120.9" y2="461.5" stroke="#000" stroke-width="1.5"/>
<text transform="translate(24,377.2) rotate(-90)" font-size="12.7" font-weight="bold" text-anchor="middle">Relative HCP5 level</text>
<rect x="62.9" y="405" width="27.6" height="50.6" fill="#CABFE8" stroke="#2A1858" stroke-width="1.9"/>
<line x1="69" y1="402.4" x2="84" y2="402.4" stroke="#2A1858" stroke-width="1.5"/>
<line x1="69" y1="405" x2="84" y2="405" stroke="#2A1858" stroke-width="1.5"/>
<circle cx="64.7" cy="404.5" r="2.6" fill="#A08BD6"/>
<circle cx="76.3" cy="402.1" r="2.6" fill="#A08BD6"/>
<circle cx="88.3" cy="403.6" r="2.6" fill="#A08BD6"/>
<rect x="106.9" y="323.6" width="28.4" height="132" fill="#93DFF9" stroke="#1E55EE" stroke-width="1.9"/>
<line x1="121.2" y1="311.6" x2="121.2" y2="334.2" stroke="#1E55EE" stroke-width="1.1"/>
<line x1="113.9" y1="311.6" x2="128.6" y2="311.6" stroke="#1E55EE" stroke-width="1.2"/>
<line x1="113.9" y1="334.2" x2="128.6" y2="334.2" stroke="#1E55EE" stroke-width="1.2"/>
<rect x="118" y="307.0" width="6.2" height="6.2" fill="#1EC0F2"/>
<rect x="118" y="322.4" width="6.2" height="6.2" fill="#1EC0F2"/>
<rect x="118" y="327.9" width="6.2" height="6.2" fill="#1EC0F2"/>
<line x1="81.9" y1="306.7" x2="115.9" y2="306.7" stroke="#000" stroke-width="1.5"/>
<path d="M98.20,295.60L98.20,300.00M96.29,296.70L100.11,298.90M100.11,296.70L96.29,298.90" stroke="#000" stroke-width="1.25" stroke-linecap="round"/>
<text x="148.9" y="277.6" font-size="16.4" font-weight="bold">D</text>
<circle cx="182.9" cy="273.4" r="3" fill="#A08BD6"/>
<text x="201.6" y="277.5" font-size="10.4" font-weight="bold">Control</text>
<rect x="244" y="270.3" width="6.2" height="6.2" fill="#1EC0F2"/>
<text x="266" y="277.5" font-size="10.4" font-weight="bold">RNase A</text>
<path d="M182.9,283.6 L186.3,289.6 L179.5,289.6Z" fill="#5CC3C8"/>
<text x="201.6" y="290" font-size="10.4" font-weight="bold">RNase A + TritonX-100</text>
<line x1="206.2" y1="298.9" x2="206.2" y2="455" stroke="#000" stroke-width="1.5"/>
<line x1="206.2" y1="455" x2="311.3" y2="455" stroke="#000" stroke-width="1.5"/>
<line x1="199.5" y1="455.00" x2="206.2" y2="455.00" stroke="#000" stroke-width="1.4"/>
<text x="198.2" y="459.00" font-size="11.6" font-weight="bold" text-anchor="end">0.0</text>
<line x1="199.5" y1="403.10" x2="206.2" y2="403.10" stroke="#000" stroke-width="1.4"/>
<text x="198.2" y="407.10" font-size="11.6" font-weight="bold" text-anchor="end">0.5</text>
<line x1="199.5" y1="351.20" x2="206.2" y2="351.20" stroke="#000" stroke-width="1.4"/>
<text x="198.2" y="355.20" font-size="11.6" font-weight="bold" text-anchor="end">1.0</text>
<line x1="199.5" y1="299.30" x2="206.2" y2="299.30" stroke="#000" stroke-width="1.4"/>
<text x="198.2" y="303.30" font-size="11.6" font-weight="bold" text-anchor="end">1.5</text>
<line x1="226.8" y1="455" x2="226.8" y2="461" stroke="#000" stroke-width="1.5"/>
<line x1="258.3" y1="455" x2="258.3" y2="461" stroke="#000" stroke-width="1.5"/>
<line x1="289.7" y1="455" x2="289.7" y2="461" stroke="#000" stroke-width="1.5"/>
<text transform="translate(174,377.2) rotate(-90)" font-size="12.7" font-weight="bold" text-anchor="middle">Relative HCP5 level</text>
<rect x="217.1" y="348.3" width="19.9" height="106.7" fill="#CABFE8" stroke="#2A1858" stroke-width="1.9"/>
<line x1="227.3" y1="344.3" x2="227.3" y2="351.4" stroke="#2A1858" stroke-width="1.1"/>
<line x1="222.5" y1="344.3" x2="232" y2="344.3" stroke="#2A1858" stroke-width="1.5"/>
<line x1="222.5" y1="351.4" x2="232" y2="351.4" stroke="#2A1858" stroke-width="1.5"/>
<circle cx="219.8" cy="343.1" r="2.6" fill="#A08BD6"/>
<circle cx="234.9" cy="347.9" r="2.6" fill="#A08BD6"/>
<circle cx="219.5" cy="351.1" r="2.6" fill="#A08BD6"/>
<rect x="248.6" y="358" width="19.8" height="97.0" fill="#93DFF9" stroke="#1E55EE" stroke-width="1.9"/>
<line x1="258.6" y1="353.2" x2="258.6" y2="361.5" stroke="#1E55EE" stroke-width="1.1"/>
<line x1="254.5" y1="353.2" x2="262.8" y2="353.2" stroke="#1E55EE" stroke-width="1.2"/>
<line x1="254.5" y1="361.5" x2="262.8" y2="361.5" stroke="#1E55EE" stroke-width="1.2"/>
<rect x="248.1" y="350.4" width="5.6" height="5.6" fill="#1EC0F2"/>
<rect x="263.0" y="354.2" width="5.6" height="5.6" fill="#1EC0F2"/>
<rect x="248.1" y="358.7" width="5.6" height="5.6" fill="#1EC0F2"/>
<rect x="280" y="420.6" width="19.6" height="34.4" fill="#B3DEE1" stroke="#17707E" stroke-width="2.4"/>
<line x1="285" y1="417.5" x2="295" y2="417.5" stroke="#5CC3C8" stroke-width="1"/>
<line x1="285" y1="422" x2="295" y2="422" stroke="#5CC3C8" stroke-width="1"/>
<path d="M289.6,412.9 L292.6,418.1 L286.6,418.1Z" fill="#5CC3C8"/>
<path d="M296.9,416.3 L299.9,421.5 L293.9,421.5Z" fill="#5CC3C8"/>
<path d="M281.7,420.5 L284.7,425.7 L278.7,425.7Z" fill="#5CC3C8"/>
<line x1="228.2" y1="335.2" x2="290.7" y2="335.2" stroke="#000" stroke-width="1.5"/>
<path d="M258.40,324.60L258.40,329.20M256.41,325.75L260.39,328.05M260.39,325.75L256.41,328.05" stroke="#000" stroke-width="1.25" stroke-linecap="round"/>
<text x="325.2" y="277.6" font-size="16.4" font-weight="bold">E</text>
<defs><filter id="bl3" x="-50%" y="-50%" width="200%" height="200%"><feGaussianBlur stdDeviation="2.4"/></filter><filter id="bl2" x="-50%" y="-50%" width="200%" height="200%"><feGaussianBlur stdDeviation="1.3"/></filter><filter id="bl1" x="-50%" y="-50%" width="200%" height="200%"><feGaussianBlur stdDeviation="0.8"/></filter><radialGradient id="gN"><stop offset="0" stop-color="#2458F0"/><stop offset="0.3" stop-color="#163CC0"/><stop offset="0.65" stop-color="#0A1C70"/><stop offset="1" stop-color="#010104" stop-opacity="0"/></radialGradient><radialGradient id="gR"><stop offset="0" stop-color="#8A2020"/><stop offset="0.4" stop-color="#6A1A1A"/><stop offset="0.75" stop-color="#3A0C0C"/><stop offset="1" stop-color="#120404" stop-opacity="0"/></radialGradient><radialGradient id="gM"><stop offset="0" stop-color="#4030D8"/><stop offset="0.45" stop-color="#3026B0"/><stop offset="0.8" stop-color="#241868"/><stop offset="1" stop-color="#181030" stop-opacity="0"/></radialGradient><clipPath id="im1"><rect x="331" y="302.8" width="96.4" height="64.3"/></clipPath><clipPath id="im2"><rect x="434" y="302.8" width="96.6" height="64.3"/></clipPath><clipPath id="im3"><rect x="331" y="386.5" width="96.4" height="63.8"/></clipPath><clipPath id="im4"><rect x="434" y="386.5" width="96.6" height="63.8"/></clipPath></defs>
<text x="382" y="298.8" font-size="10.4" font-weight="bold" text-anchor="middle">DAPI</text>
<text x="482.6" y="298.8" font-size="10.4" font-weight="bold" text-anchor="middle">Cy3-HCP5</text>
<text x="381.8" y="380.6" font-size="10.4" font-weight="bold" text-anchor="middle">Phalloidin</text>
<text x="482.5" y="380.6" font-size="10.4" font-weight="bold" text-anchor="middle">Merge</text>
<rect x="331" y="302.8" width="96.4" height="64.3" fill="#020208"/>
<g clip-path="url(#im1)"><ellipse cx="375" cy="332" rx="23" ry="6.2" transform="rotate(63.6 375 332)" fill="url(#gN)" filter="url(#bl1)"/></g>
<rect x="434" y="302.8" width="96.6" height="64.3" fill="#130507"/>
<g clip-path="url(#im2)"><ellipse cx="480.6" cy="334.7" rx="21" ry="5.6" transform="rotate(66 480.6 334.7)" fill="url(#gR)" filter="url(#bl1)"/><circle cx="505" cy="327" r="1" fill="#401010" filter="url(#bl1)"/><ellipse cx="478" cy="327" rx="3" ry="2" fill="#A82A2A" opacity="0.6" filter="url(#bl1)"/><ellipse cx="482" cy="337" rx="3" ry="2" fill="#A82A2A" opacity="0.5" filter="url(#bl1)"/></g>
<rect x="331" y="386.5" width="96.4" height="63.8" fill="#020302"/>
<g clip-path="url(#im3)"><path d="M358,387 C368,391 382,401 391,412 C391,420 387,430 384,438 C382,443 381,447 380,451 C379,440 376,428 371,418 C366,408 362,398 358,387 Z" fill="#0D2C0D" filter="url(#bl3)"/><path d="M358,388 C364,398 370,410 374,420 C378,432 380,442 380,450" fill="none" stroke="#123E12" stroke-width="2" filter="url(#bl2)"/><path d="M368,400 C376,408 382,416 384,424" fill="none" stroke="#154815" stroke-width="5" filter="url(#bl3)"/></g>
<rect x="434" y="386.5" width="96.6" height="63.8" fill="#0D0506"/>
<g clip-path="url(#im4)"><path d="M461,387 C471,391 485,401 494,412 C494,420 490,430 487,438 C485,443 484,447 483,451 C482,440 479,428 474,418 C469,408 465,398 461,387 Z" fill="#0C240C" filter="url(#bl3)"/><path d="M461,388 C467,398 473,410 477,420 C481,432 483,442 483,450" fill="none" stroke="#113411" stroke-width="2" filter="url(#bl2)"/><ellipse cx="480" cy="416" rx="15" ry="5.5" transform="rotate(62 480 416)" fill="url(#gM)" filter="url(#bl1)"/><ellipse cx="478" cy="410" rx="4" ry="2" transform="rotate(62 478 410)" fill="#6030C8" filter="url(#bl2)" opacity="0.7"/><ellipse cx="485" cy="426" rx="4" ry="1.8" transform="rotate(62 485 426)" fill="#6A30B0" filter="url(#bl2)" opacity="0.6"/></g>
<text x="511.7" y="441.8" font-size="8.8" font-weight="bold" text-anchor="middle" fill="#fff">25 μm</text>
<rect x="499.1" y="444.3" width="25.3" height="2.5" fill="#fff"/>
<text x="539.1" y="277.4" font-size="16.4" font-weight="bold">F</text>
<circle cx="600" cy="286.4" r="3" fill="#A08BD6"/>
<text x="618.3" y="289.5" font-size="10.4" font-weight="bold">Control</text>
<rect x="596.9" y="301.9" width="6.2" height="6.2" fill="#1EC0F2"/>
<text x="618.3" y="308.1" font-size="10.4" font-weight="bold">CP</text>
<path d="M673,283.3 L676.4,289.3 L669.6,289.3Z" fill="#5CC3C8"/>
<text x="690.9" y="289.5" font-size="10.4" font-weight="bold">CP+PBS</text>
<path d="M669.6,301.4 L676.4,301.4 L673,307.4Z" fill="#F8906A"/>
<text x="690.9" y="307.7" font-size="10.4" font-weight="bold">CP+EVs</text>
<line x1="589" y1="298.5" x2="589" y2="456.2" stroke="#000" stroke-width="1.5"/>
<line x1="589" y1="456.2" x2="745.8" y2="456.2" stroke="#000" stroke-width="1.5"/>
<line x1="582.2" y1="456.20" x2="589" y2="456.20" stroke="#000" stroke-width="1.4"/>
<text x="580.7" y="460.20" font-size="11.6" font-weight="bold" text-anchor="end">0.0</text>
<line x1="582.2" y1="403.80" x2="589" y2="403.80" stroke="#000" stroke-width="1.4"/>
<text x="580.7" y="407.80" font-size="11.6" font-weight="bold" text-anchor="end">0.5</text>
<line x1="582.2" y1="351.40" x2="589" y2="351.40" stroke="#000" stroke-width="1.4"/>
<text x="580.7" y="355.40" font-size="11.6" font-weight="bold" text-anchor="end">1.0</text>
<line x1="582.2" y1="299.00" x2="589" y2="299.00" stroke="#000" stroke-width="1.4"/>
<text x="580.7" y="303.00" font-size="11.6" font-weight="bold" text-anchor="end">1.5</text>
<line x1="613.1" y1="456.2" x2="613.1" y2="462" stroke="#000" stroke-width="1.5"/>
<line x1="649.2" y1="456.2" x2="649.2" y2="462" stroke="#000" stroke-width="1.5"/>
<line x1="685.2" y1="456.2" x2="685.2" y2="462" stroke="#000" stroke-width="1.5"/>
<line x1="721.3" y1="456.2" x2="721.3" y2="462" stroke="#000" stroke-width="1.5"/>
<text transform="translate(556.2,378.3) rotate(-90)" font-size="12.7" font-weight="bold" text-anchor="middle">Relative HCP5 level</text>
<rect x="601.9" y="355.5" width="22.6" height="100.7" fill="#CABFE8" stroke="#2A1858" stroke-width="1.9"/>
<line x1="607.3" y1="352.3" x2="618.9" y2="352.3" stroke="#2A1858" stroke-width="1.5"/>
<line x1="607.3" y1="356.2" x2="618.9" y2="356.2" stroke="#2A1858" stroke-width="1.5"/>
<circle cx="603.8" cy="354.9" r="2.7" fill="#A08BD6"/>
<circle cx="613.1" cy="351" r="2.7" fill="#A08BD6"/>
<circle cx="622.2" cy="354.9" r="2.7" fill="#A08BD6"/>
<rect x="637.9" y="380.1" width="22.6" height="76.1" fill="#93DFF9" stroke="#1E55EE" stroke-width="1.9"/>
<rect x="646.0" y="368.3" width="6" height="6" fill="#1EC0F2"/>
<rect x="636.6" y="379.0" width="6" height="6" fill="#1EC0F2"/>
<rect x="655.4" y="378.4" width="6" height="6" fill="#1EC0F2"/>
<line x1="649.1" y1="373" x2="649.1" y2="386" stroke="#1E55EE" stroke-width="1.1"/>
<line x1="643.5" y1="373" x2="654.8" y2="373" stroke="#1E55EE" stroke-width="1.2"/>
<line x1="643.5" y1="386" x2="654.8" y2="386" stroke="#1E55EE" stroke-width="1.2"/>
<rect x="674.2" y="381.2" width="21.8" height="75.0" fill="#B3DEE1" stroke="#17707E" stroke-width="2.4"/>
<path d="M676.4,373.6 L679.6,379.2 L673.2,379.2Z" fill="#5CC3C8"/>
<path d="M694,375.6 L697.2,381.2 L690.8,381.2Z" fill="#5CC3C8"/>
<path d="M676.6,381.4 L679.8,387.0 L673.4,387.0Z" fill="#5CC3C8"/>
<line x1="685" y1="376.4" x2="685" y2="383.9" stroke="#17707E" stroke-width="1.1"/>
<line x1="679.2" y1="376.4" x2="690.8" y2="376.4" stroke="#17707E" stroke-width="1.2"/>
<line x1="679.2" y1="383.9" x2="690.8" y2="383.9" stroke="#17707E" stroke-width="1.2"/>
<rect x="710.5" y="364.8" width="21.6" height="91.4" fill="#FDCBB8" stroke="#FF4A10" stroke-width="2.4"/>
<path d="M709.0,356.3 L715.4,356.3 L712.2,361.9Z" fill="#F8906A"/>
<path d="M727.0,357.6 L733.4,357.6 L730.2,363.2Z" fill="#F8906A"/>
<path d="M718.0,367.3 L724.4,367.3 L721.2,372.9Z" fill="#F8906A"/>
<line x1="721.8" y1="358.3" x2="721.8" y2="367.8" stroke="#FF4A10" stroke-width="1.1"/>
<line x1="716" y1="358.3" x2="727.7" y2="358.3" stroke="#FF4A10" stroke-width="1.2"/>
<line x1="716" y1="367.8" x2="727.7" y2="367.8" stroke="#FF4A10" stroke-width="1.2"/>
<line x1="615.7" y1="343.4" x2="654.2" y2="343.4" stroke="#000" stroke-width="1.5"/>
<path d="M634.30,332.30L634.30,337.10M632.22,333.50L636.38,335.90M636.38,333.50L632.22,335.90" stroke="#000" stroke-width="1.25" stroke-linecap="round"/>
<line x1="682.4" y1="348" x2="720.6" y2="348" stroke="#000" stroke-width="1.5"/>
<path d="M700.60,336.90L700.60,341.50M698.61,338.05L702.59,340.35M702.59,338.05L698.61,340.35" stroke="#000" stroke-width="1.25" stroke-linecap="round"/>
</svg>
</body></html>
